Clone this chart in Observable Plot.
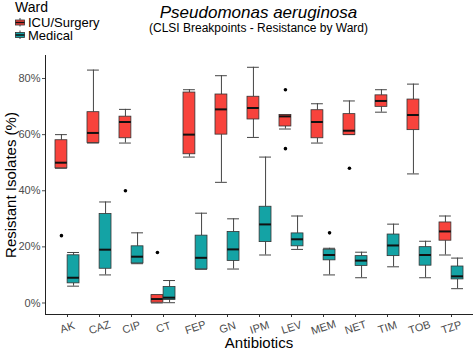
<!DOCTYPE html>
<html>
<head>
<meta charset="utf-8">
<script src="https://cdn.jsdelivr.net/npm/d3@7"></script>
<script src="https://cdn.jsdelivr.net/npm/@observablehq/plot@0.6"></script>
<style>
  html, body { margin: 0; padding: 0; background: #fff; }
  #wrap { position: relative; width: 474px; height: 351px; font-family: "Liberation Sans", Arial, sans-serif; }
  #hdr { position: absolute; left: 0; top: 0; }
  #chart { position: absolute; left: 0; top: 50px; }
</style>
</head>
<body>
<div id="wrap">
  <svg id="hdr" width="474" height="50" font-family="Liberation Sans, Arial, sans-serif">
    <text x="15" y="12" font-size="14" fill="#000">Ward</text>
    <g>
      <line x1="20" x2="20" y1="18" y2="26.5" stroke="#444" stroke-width="1"/>
      <rect x="15.5" y="20" width="9" height="5" fill="#F8433C" stroke="#333" stroke-width="0.8"/>
      <line x1="15.5" x2="24.5" y1="22.5" y2="22.5" stroke="#111" stroke-width="1.5"/>
      <text x="28" y="26.5" font-size="13" fill="#000">ICU/Surgery</text>
    </g>
    <g>
      <line x1="20" x2="20" y1="30.5" y2="39" stroke="#444" stroke-width="1"/>
      <rect x="15.5" y="32.5" width="9" height="5" fill="#14A3A5" stroke="#333" stroke-width="0.8"/>
      <line x1="15.5" x2="24.5" y1="35" y2="35" stroke="#111" stroke-width="1.5"/>
      <text x="28" y="40" font-size="13" fill="#000">Medical</text>
    </g>
    <text x="258.5" y="17.5" font-size="17" font-style="italic" text-anchor="middle" fill="#000">Pseudomonas aeruginosa</text>
    <text x="258.5" y="32" font-size="12" text-anchor="middle" fill="#000">(CLSI Breakpoints - Resistance by Ward)</text>
  </svg>
  <div id="chart"></div>
</div>
<script>
const antibiotics = ["AK","CAZ","CIP","CT","FEP","GN","IPM","LEV","MEM","NET","TIM","TOB","TZP"];
const wards = ["ICU/Surgery", "Medical"];

// ICU/Surgery five-number summaries (%)
const icuLo  = [48, 57, 57,   0,   52, 43, 59,   62,   57,   60,   68,   46,   17.1];
const icuQ1  = [48, 57, 58.7, 0.1, 53, 60, 65.4, 62.9, 58.7, 59.9, 69.9, 61.6, 22.2];
const icuMed = [50, 60.6, 64.5, 1.4, 60, 69, 69.5, 66.5, 64.5, 61.4, 72, 67, 25.5];
const icuQ3  = [58, 68, 66.4, 2.8, 75, 74.3, 73.5, 67, 68.7, 67.3, 74, 72.5, 28.7];
const icuHi  = [60, 83, 69,   2.8, 76, 81, 84,   67,   71,   72,   76,   78,   31];

// Medical five-number summaries (%)
const medLo  = [6,  10,   14,   0.1, 12,   12.1, 17.1, 19.1, 10,   9,    12.9, 9,    5.1];
const medQ1  = [7,  12.2, 14.1, 1.1, 12,   15,   21.7, 20.2, 15.2, 13.2, 16.7, 13.3, 8.4];
const medMed = [9,  19,   16.5, 1.9, 16.1, 19.1, 28,   22.7, 17.1, 15.1, 20.5, 17.1, 9.5];
const medQ3  = [17, 31.7, 20.2, 5.7, 24,   25.3, 34.3, 24.8, 19,   16.7, 24.4, 19.9, 13];
const medHi  = [18, 36,   25,   8,   32,   30,   52,   31,   19.5, 18.1, 28.1, 22,   16];

// Outliers
const icuOutAb  = ["AK", "CIP", "CT", "LEV", "LEV", "NET"];
const icuOutVal = [24, 40, 18, 76, 55, 48];
const medOutAb  = ["MEM"];
const medOutVal = [25];

const yTicks = [0, 20, 40, 60, 80];
const colors = ["#F8433C", "#14A3A5"];

function rows(lo, q1, med, q3, hi) {
  return antibiotics.map((ab, i) => ({ab, lo: lo[i], q1: q1[i], med: med[i], q3: q3[i], hi: hi[i]}));
}
function outs(abs, vals) { return abs.map((ab, i) => ({ab, v: vals[i]})); }

const icuRows = rows(icuLo, icuQ1, icuMed, icuQ3, icuHi);
const medRows = rows(medLo, medQ1, medMed, medQ3, medHi);

const BW = 24.26, H = BW / 2, Q = BW / 4;

function boxMarks(data, outliers, fill, side) {
  const dx = side * Q;
  const inset = side < 0 ? {insetLeft: 0, insetRight: H} : {insetLeft: H, insetRight: 0};
  const ws = {stroke: "#444", strokeWidth: 1};
  return [
    Plot.ruleX(data, {x: "ab", y1: "lo", y2: "q1", dx, ...ws}),
    Plot.ruleX(data, {x: "ab", y1: "q3", y2: "hi", dx, ...ws}),
    Plot.tickY(data, {x: "ab", y: "lo", ...inset, ...ws}),
    Plot.tickY(data, {x: "ab", y: "hi", ...inset, ...ws}),
    Plot.barY(data, {x: "ab", y1: "q1", y2: "q3", fill, stroke: "#333", strokeWidth: 0.8, ...inset}),
    Plot.tickY(data, {x: "ab", y: "med", stroke: "#111", strokeWidth: 2, ...inset}),
    Plot.dot(outliers, {x: "ab", y: "v", dx, r: 1.8, fill: "#000", stroke: "none"})
  ];
}

const chart = Plot.plot({
  width: 474,
  height: 301,
  marginTop: 5,
  marginBottom: 37,
  marginLeft: 45,
  marginRight: 2,
  style: {fontFamily: "Liberation Sans, Arial, sans-serif", background: "#fff", overflow: "visible"},
  x: {type: "band", domain: antibiotics, paddingInner: 0.25, paddingOuter: 0.225, axis: null},
  y: {domain: [-4.1, 88.2], axis: null},
  marks: [
    ...boxMarks(icuRows, outs(icuOutAb, icuOutVal), colors[0], -1),
    ...boxMarks(medRows, outs(medOutAb, medOutVal), colors[1], 1),
    Plot.axisY({ticks: yTicks, tickFormat: d => d + "%", tickSize: 3, tickPadding: 2, fontSize: 11, color: "#4d4d4d", label: null}),
    Plot.axisX({tickSize: 3, tickFormat: () => "", color: "#333", label: null}),
    Plot.text(antibiotics, {x: d => d, text: d => d, frameAnchor: "bottom", textAnchor: "middle", lineAnchor: "middle", dy: 13, rotate: -18, fontSize: 11, fill: "#4d4d4d"}),
    Plot.frame({anchor: "left", stroke: "#222"}),
    Plot.frame({anchor: "bottom", stroke: "#222"}),
    Plot.text(["Antibiotics"], {frameAnchor: "bottom", textAnchor: "middle", lineAnchor: "middle", dy: 29, fontSize: 15, fill: "#000"}),
    Plot.text(["Resistant Isolates (%)"], {frameAnchor: "left", textAnchor: "middle", lineAnchor: "middle", dx: -34, rotate: -90, fontSize: 15, fill: "#000"})
  ]
});
document.getElementById("chart").appendChild(chart);
</script>
</body>
</html>
